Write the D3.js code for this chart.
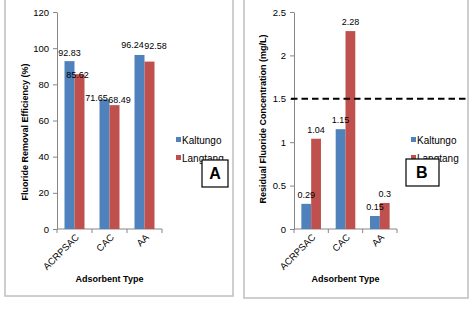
<!DOCTYPE html>
<html>
<head>
<meta charset="utf-8">
<script src="https://cdn.jsdelivr.net/npm/d3@7"></script>
<style>
  body { margin: 0; background: #fff; }
  svg { display: block; font-family: "Liberation Sans", Arial, sans-serif; }
  .tick text { font-size: 9.5px; fill: #000; }
  .axis-title { font-size: 9px; font-weight: bold; }
  .value-label { font-size: 9px; }
  .legend text { font-size: 10px; }
</style>
</head>
<body>
<svg id="chart" width="474" height="322"></svg>
<script>
// data
const categories = ["ACRPSAC", "CAC", "AA"];
const series = ["Kaltungo", "Langtang"];
const efficiencyKaltungo = [92.83, 71.65, 96.24];
const efficiencyLangtang = [85.62, 68.49, 92.58];
const residualKaltungo = [0.29, 1.15, 0.15];
const residualLangtang = [1.04, 2.28, 0.3];
const efficiencyTicks = [0, 20, 40, 60, 80, 100, 120];
const residualTicks = [0, 0.5, 1, 1.5, 2, 2.5];
const whoLimit = 1.5;

const colors = {Kaltungo: "#4f81bd", Langtang: "#c0504d"};

const svg = d3.select("#chart");
svg.append("rect").attr("width", 474).attr("height", 322).attr("fill", "#fff");

// panel layouts
const panels = [
    {
        id: "A",
        frame: {x: 5, y: -6, w: 228, h: 302},
        plot: {x0: 57, x1: 162, y0: 229, y1: 12},
        domain: [0, 120], ticks: efficiencyTicks, fmt: d3.format("d"),
        values: [efficiencyKaltungo, efficiencyLangtang],
        yTitle: "Fluoride Removal Efficiency (%)", yTitleX: 28, yTitleY: 132, yTitleSize: 9,
        //excel labels were dragged around a bit
        labelNudge: [[[0, 1], [-2, 10]], [[-8, 8], [5, 4]], [[-7, -1], [6, -7]]],
        legend: {x: 176, y: 140},
        box: {x: 202, y: 160, w: 26, h: 27}
    },
    {
        id: "B",
        frame: {x: 244, y: -6, w: 224, h: 304},
        plot: {x0: 294, x1: 397, y0: 229, y1: 12},
        domain: [0, 2.5], ticks: residualTicks, fmt: d => String(d),
        values: [residualKaltungo, residualLangtang],
        yTitle: "Residual Fluoride Concentration (mg/L)", yTitleX: 266, yTitleY: 119, yTitleSize: 8.2,
        labelNudge: null,
        legend: {x: 411, y: 140},
        box: {x: 406, y: 159, w: 33, h: 27},
        limit: whoLimit
    }
];

panels.forEach(drawPanel);

function drawPanel(p) {
    let g = svg.append("g").attr("class", "panel-" + p.id);

    g.append("rect")
        .attr("x", p.frame.x).attr("y", p.frame.y)
        .attr("width", p.frame.w).attr("height", p.frame.h)
        .attr("fill", "none").attr("stroke", "#bfbfbf").attr("stroke-width", 1.5);

    let x = d3.scaleBand().domain(categories).range([p.plot.x0, p.plot.x1]).padding(0);
    let x1 = d3.scaleBand().domain(series).range([0, x.bandwidth()])
        .paddingInner(0).paddingOuter(0.75);
    let y = d3.scaleLinear().domain(p.domain).range([p.plot.y0, p.plot.y1]);

    //y axis
    let yAxis = g.append("g")
        .attr("transform", `translate(${p.plot.x0},0)`)
        .call(d3.axisLeft(y).tickValues(p.ticks).tickFormat(p.fmt).tickSizeInner(4).tickSizeOuter(0).tickPadding(4));
    yAxis.selectAll("path, line").attr("stroke", "#868686");
    yAxis.attr("font-family", null);

    //x axis: line + ticks at band edges
    let xAxis = g.append("g");
    xAxis.append("line")
        .attr("x1", p.plot.x0).attr("x2", p.plot.x1)
        .attr("y1", p.plot.y0).attr("y2", p.plot.y0)
        .attr("stroke", "#868686");
    let edges = categories.map(c => x(c)).concat([x.range()[1]]);
    xAxis.selectAll(".edge").data(edges).join("line")
        .attr("class", "edge")
        .attr("x1", d => d).attr("x2", d => d)
        .attr("y1", p.plot.y0).attr("y2", p.plot.y0 + 4)
        .attr("stroke", "#868686");
    xAxis.selectAll(".cat").data(categories).join("text")
        .attr("class", "cat")
        .attr("font-size", 9.5)
        .attr("text-anchor", "end")
        .attr("transform", d => `translate(${x(d) + x.bandwidth() / 2 + 5},${p.plot.y0 + 9}) rotate(-45)`)
        .text(d => d);

    //bars
    let rows = [];
    categories.forEach((c, i) => series.forEach((s, j) => {
        rows.push({cat: c, series: s, value: p.values[j][i], i: i, j: j});
    }));

    g.selectAll(".bar").data(rows).join("rect")
        .attr("class", "bar")
        .attr("x", d => x(d.cat) + x1(d.series))
        .attr("width", x1.bandwidth())
        .attr("y", d => y(d.value))
        .attr("height", d => y(0) - y(d.value))
        .attr("fill", d => colors[d.series]);

    //dashed limit line
    if (p.limit !== undefined) {
        g.append("line")
            .attr("x1", p.plot.x0 - 3).attr("x2", p.frame.x + p.frame.w)
            .attr("y1", y(p.limit)).attr("y2", y(p.limit))
            .attr("stroke", "#000").attr("stroke-width", 2)
            .attr("stroke-dasharray", "6.5,4");
    }

    //value labels
    g.selectAll(".value-label").data(rows).join("text")
        .attr("class", "value-label")
        .attr("text-anchor", "middle")
        .attr("x", d => x(d.cat) + x1(d.series) + x1.bandwidth() / 2 + (p.labelNudge ? p.labelNudge[d.i][d.j][0] : 0))
        .attr("y", d => y(d.value) - 6 + (p.labelNudge ? p.labelNudge[d.i][d.j][1] : 0))
        .text(d => d.value);

    //axis titles
    g.append("text")
        .attr("class", "axis-title")
        .attr("text-anchor", "middle")
        .attr("font-size", p.yTitleSize)
        .attr("transform", `translate(${p.yTitleX},${p.yTitleY}) rotate(-90)`)
        .text(p.yTitle);
    g.append("text")
        .attr("class", "axis-title")
        .attr("text-anchor", "middle")
        .attr("x", (p.plot.x0 + p.plot.x1) / 2)
        .attr("y", 282)
        .text("Adsorbent Type");

    //legend
    let legend = g.append("g").attr("class", "legend");
    series.forEach((s, j) => {
        let ly = p.legend.y + j * 18;
        legend.append("rect")
            .attr("x", p.legend.x).attr("y", ly - 3)
            .attr("width", 5).attr("height", 5)
            .attr("fill", colors[s]);
        legend.append("text")
            .attr("x", p.legend.x + 6).attr("y", ly + 3.5)
            .text(s);
    });

    //panel letter box
    g.append("rect")
        .attr("x", p.box.x).attr("y", p.box.y)
        .attr("width", p.box.w).attr("height", p.box.h)
        .attr("fill", "#fff").attr("stroke", "#000").attr("stroke-width", 1.2);
    g.append("text")
        .attr("x", p.box.x + 13).attr("y", p.box.y + 19)
        .attr("text-anchor", p.id === "A" ? "middle" : "start")
        .attr("dx", p.id === "A" ? 0 : -3)
        .attr("font-size", 16).attr("font-weight", "bold")
        .text(p.id);
}
</script>
</body>
</html>
